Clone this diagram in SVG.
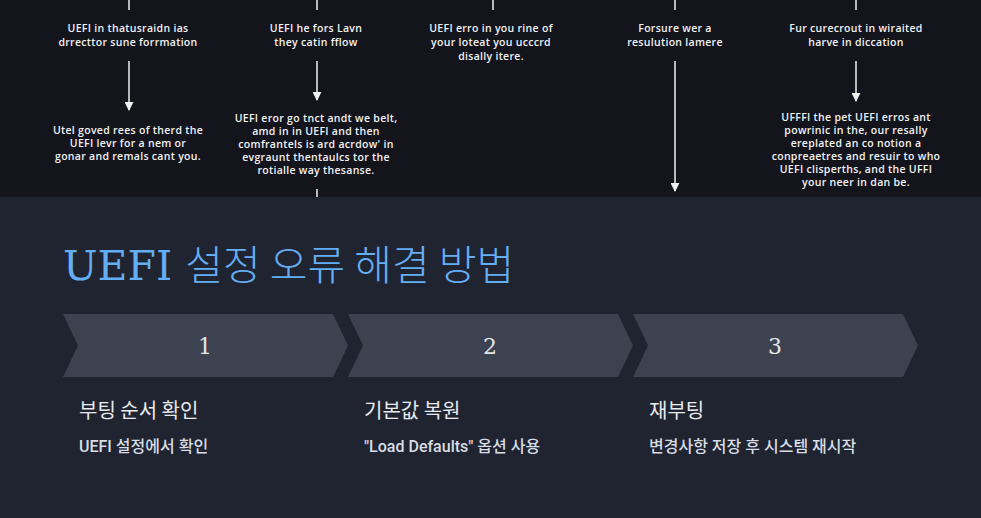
<svg xmlns="http://www.w3.org/2000/svg" width="981" height="518" viewBox="0 0 981 518">
<style>
.t{font-family:"Open Sans","DejaVu Sans",sans-serif;font-size:10.5px;fill:#f2f2f2;text-anchor:middle;font-weight:600;letter-spacing:0.3px}
.ln{stroke:#f0f0f0;stroke-width:1.5;fill:none}
.chev{fill:#3c424f}
.num{font-family:"Roboto Slab","DejaVu Serif",serif;font-size:22px;fill:#e4e6ea;text-anchor:middle}
.h{font-family:"Noto Sans CJK KR",sans-serif;font-size:20px;fill:#e8eaee}
.s{font-family:Roboto,"Noto Sans CJK KR",sans-serif;font-size:16px;fill:#d8dde6;font-weight:500}
</style>
<defs><marker id="a" viewBox="0 0 10 10" refX="9" refY="5" markerWidth="6" markerHeight="6" orient="auto"><path d="M0,0L10,5L0,10z" fill="#f0f0f0"/></marker></defs>
<rect width="981" height="518" fill="#1f2430"/>
<rect width="981" height="197" fill="#13141c"/>
<g id="connectors">
<path class="ln" d="M129,0V10M317,0V10M493,0V10M675,0V10M856,0V10M317,189V197"/>
<path class="ln" d="M129,61V110" marker-end="url(#a)"/>
<path class="ln" d="M317,61V100" marker-end="url(#a)"/>
<path class="ln" d="M675,61V191" marker-end="url(#a)"/>
<path class="ln" d="M856,61V101" marker-end="url(#a)"/>
</g>
<g id="top-text">
<text class="t" x="128" y="32">UEFI in thatusraidn ias</text>
<text class="t" x="128" y="46">drrecttor sune forrmation</text>
<text class="t" x="128" y="134">Utel goved rees of therd the</text>
<text class="t" x="128" y="147">UEFI levr for a nem or</text>
<text class="t" x="128" y="160">gonar and remals cant you.</text>
<text class="t" x="316" y="32">UEFI he fors Lavn</text>
<text class="t" x="316" y="46">they catin fflow</text>
<text class="t" x="316" y="122">UEFI eror go tnct andt we belt,</text>
<text class="t" x="316" y="135">amd in in UEFI and then</text>
<text class="t" x="316" y="148">comfrantels is ard acrdow' in</text>
<text class="t" x="316" y="161">evgraunt thentaulcs tor the</text>
<text class="t" x="316" y="174">rotialle way thesanse.</text>
<text class="t" x="491" y="32">UEFI erro in you rine of</text>
<text class="t" x="491" y="46">your loteat you ucccrd</text>
<text class="t" x="491" y="60">disally itere.</text>
<text class="t" x="675" y="32">Forsure wer a</text>
<text class="t" x="675" y="46">resulution lamere</text>
<text class="t" x="856" y="32">Fur curecrout in wiraited</text>
<text class="t" x="856" y="46">harve in diccation</text>
<text class="t" x="856" y="121">UFFFI the pet UEFI erros ant</text>
<text class="t" x="856" y="134">powrinic in the, our resally</text>
<text class="t" x="856" y="147">ereplated an co notion a</text>
<text class="t" x="856" y="160">conpreaetres and resuir to who</text>
<text class="t" x="856" y="173">UEFI clisperths, and the UFFI</text>
<text class="t" x="856" y="186">your neer in dan be.</text>
</g>
<text id="title" x="63" y="280" font-family="'Roboto Slab','DejaVu Serif','Noto Sans CJK KR',serif" font-size="41" fill="#64aef5" font-weight="300">UEFI <tspan font-family="'Noto Sans CJK KR',sans-serif" font-weight="300">설정 오류 해결 방법</tspan></text>
<g id="step1">
<path class="chev" d="M63,314H333L348,345.5L333,377H63L78,345.5Z"/>
<text class="num" x="205" y="354">1</text>
<text class="h" x="79" y="418">부팅 순서 확인</text>
<text class="s" x="79" y="452">UEFI 설정에서 확인</text>
</g>
<g id="step2">
<path class="chev" d="M348,314H618L633,345.5L618,377H348L363,345.5Z"/>
<text class="num" x="490" y="354">2</text>
<text class="h" x="364" y="418">기본값 복원</text>
<text class="s" x="364" y="452">"Load Defaults" 옵션 사용</text>
</g>
<g id="step3">
<path class="chev" d="M633,314H903L918,345.5L903,377H633L648,345.5Z"/>
<text class="num" x="775" y="354">3</text>
<text class="h" x="649" y="418">재부팅</text>
<text class="s" x="649" y="452">변경사항 저장 후 시스템 재시작</text>
</g>
</svg>
